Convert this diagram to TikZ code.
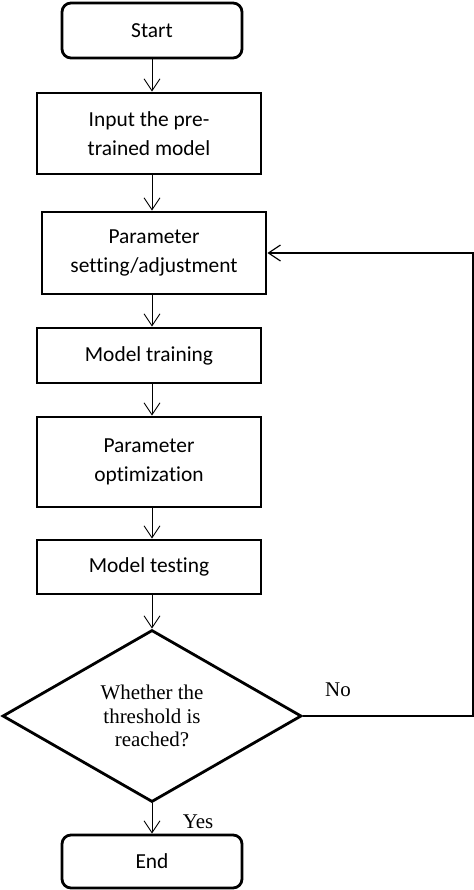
\documentclass[tikz,border=0pt]{standalone}
\usepackage{fontspec}
\setmainfont{Carlito}[Ligatures=CommonOff]
\newfontfamily\timesfont{Liberation Serif}
\usetikzlibrary{shapes.geometric,arrows.meta}
\begin{document}
\begin{tikzpicture}[x=1bp,y=-1bp,
	stepbox/.style={draw,line width=2.8bp,minimum width=224bp,align=center,inner sep=0pt,font=\fontsize{21.5}{29}\selectfont},
	endbox/.style={stepbox,rounded corners=9bp,minimum width=180bp},
	flow/.style={line width=0.9bp,-{Straight Barb[length=12bp,width=16bp]}}]
	\useasboundingbox (0,0) rectangle (474,890);% Keeps the margins...

		\node[endbox,minimum height=55bp]  (start) at (152,30.5) {Start};
		\node[stepbox,minimum height=81bp] (input) at (149,133.5) {Input the pre-\\trained model};
		\node[stepbox,minimum height=82bp] (set)   at (154,253) {Parameter\\setting/adjustment};
		\node[stepbox,minimum height=55bp] (train) at (149,355.5) {Model training};
		\node[stepbox,minimum height=90bp] (opt)   at (149,462) {Parameter\\optimization};
		\node[stepbox,minimum height=54bp] (test)  at (149,567) {Model testing};
		\node[diamond,draw,line width=2.8bp,minimum width=299bp,minimum height=172bp,inner sep=0pt,align=center,
			font=\timesfont\fontsize{21}{23.5}\selectfont] (check) at (152,716) {Whether the\\threshold is\\reached?};
		\node[endbox,minimum height=53bp]  (end)   at (152,861.5) {End};

		\coordinate (loop) at (473,716);

		\draw[flow] (start.south) -- (start.south |- input.north);
		\draw[flow] (start.south |- input.south) -- (start.south |- set.north);
		\draw[flow] (start.south |- set.south) -- (start.south |- train.north);
		\draw[flow] (start.south |- train.south) -- (start.south |- opt.north);
		\draw[flow] (start.south |- opt.south) -- (start.south |- test.north);
		\draw[flow] (start.south |- test.south) -- (check.north);
		\draw[flow] (check.south) -- (end.north);% Yes
		\draw[flow,line width=1.2bp] (check.east) -- (loop) |- (set.east);% No

		\node[font=\timesfont\fontsize{21}{23.5}\selectfont] (no)  at (338,690) {No};
		\node[font=\timesfont\fontsize{21}{23.5}\selectfont] (yes) at (198,822) {Yes};
\end{tikzpicture}
\end{document}
